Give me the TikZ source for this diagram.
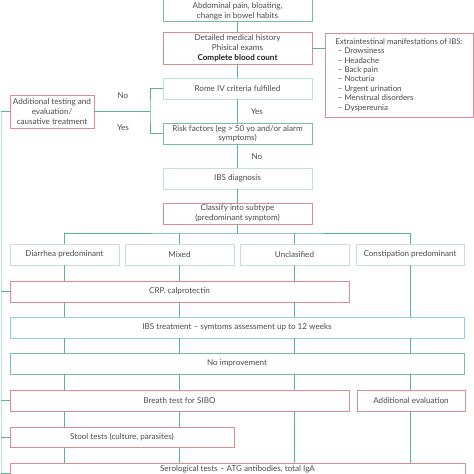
\documentclass[tikz,border=0pt]{standalone}
\usepackage{fontspec}
\setmainfont{Lato}
\usepackage{xcolor}
\usepackage{tikz}
\usetikzlibrary{calc}
\definecolor{bg}{HTML}{FFFFFF}
\definecolor{text}{HTML}{4A4A4A}
\definecolor{dark}{HTML}{1E1E1E}
\definecolor{teal}{HTML}{58B39E}
\definecolor{rose}{HTML}{E38793}
\definecolor{mint}{HTML}{BFE2D5}
\definecolor{pale}{HTML}{CBDDD8}
\definecolor{sky}{HTML}{8FD0E2}
\definecolor{rail}{HTML}{B5E1E4}
\tikzset{
  box/.style={draw, line width=0.9pt, inner sep=1pt, align=center, text=text,
    font=\fontsize{8.1}{9.8}\selectfont},
  redbox/.style={box, draw=rose},
  grnbox/.style={box, draw=teal!85},
  mntbox/.style={box, draw=mint},
  gryb/.style={box, draw=pale},
  skybox/.style={box, draw=sky},
  link/.style={draw=teal, line width=0.9pt},
  railln/.style={draw=rail, line width=0.9pt},
  lab/.style={text=text, font=\fontsize{8.1}{9.8}\selectfont},
}

\begin{document}
\begin{tikzpicture}[x=1pt, y=-1pt]
  \useasboundingbox[fill=bg] (0,0) rectangle (474,474);

  % upper column
  \node[grnbox, minimum width=149, minimum height=34] (sympt) at (237.5,4) {};
  \node[lab] (symptxt) at (237.5,6) {Abdominal pain, bloating,};
  \node[lab] (symptxt2) at (237.5,16) {change in bowel habits};
  \node[redbox, minimum width=149, minimum height=32] (hist) at (237.5,48)
    {Detailed medical history\\Phisical exams\\\textcolor{dark}{\textbf{Complete blood count}}};
  \node[redbox, minimum width=148, minimum height=84, align=left,
    font=\fontsize{7.9}{9.4}\selectfont] (extra) at (399,75)
    {Extraintestinal manifestations of IBS:\\
     \,\,-- Drowsiness\\ \,\,-- Headache\\ \,\,-- Back pain\\ \,\,-- Nocturia\\
     \,\,-- Urgent urination\\ \,\,-- Menstrual disorders\\ \,\,-- Dyspereunia};
  \node[mntbox, minimum width=149, minimum height=21] (rome) at (237.5,88.5) {Rome IV criteria fulfilled};
  \node[grnbox, minimum width=149, minimum height=21] (risk) at (237.5,133.5)
    {Risk factors (eg > 50 yo and/or alarm\\symptoms)};
  \node[redbox, minimum width=84, minimum height=33] (addtest) at (52,111.5)
    {Additional testing and\\evaluation/\\causative treatment};
  \node[mntbox, minimum width=149, minimum height=21] (ibs) at (237.5,178.5) {IBS diagnosis};
  \node[redbox, minimum width=149, minimum height=21] (classify) at (237.5,213.5)
    {Classify into subtype\\(predominant symptom)};

  % subtypes
  \node[gryb, minimum width=109, minimum height=21] (diarr) at (64.5,254.5) {Diarrhea predominant};
  \node[gryb, minimum width=109, minimum height=21] (mixed) at (179.5,254.5) {Mixed};
  \node[gryb, minimum width=109, minimum height=21] (uncl) at (294.5,254.5) {Unclasified};
  \node[gryb, minimum width=108, minimum height=21] (consti) at (410,254.5) {Constipation predominant};

  % lower rows
  \node[redbox, minimum width=339, minimum height=21] (crp) at (179.5,291.5) {CRP, calprotectin};
  \node[skybox, minimum width=454, minimum height=21] (treat) at (237,327.5)
    {IBS treatment -- symtoms assessment up to 12 weeks};
  \node[grnbox, minimum width=454, minimum height=21] (noimp) at (237,363.5) {No improvement};
  \node[redbox, minimum width=339, minimum height=21] (breath) at (179.5,400.5) {Breath test for SIBO};
  \node[redbox, minimum width=108, minimum height=21] (addeval) at (411,400.5) {Additional evaluation};
  \node[redbox, minimum width=224, minimum height=20] (stool) at (122,437) {Stool tests (culture, parasites)};
  \node[redbox, minimum width=455, minimum height=27, text height=6pt, text depth=17pt] (sero) at (237.5,477)
    {Serological tests -- ATG antibodies, total IgA};

  % labels
  \node[lab] (no1) at (123,96) {No};
  \node[lab] (yes1) at (123,128) {Yes};
  \node[lab] (yes2) at (257,112) {Yes};
  \node[lab] (no2) at (257,157) {No};

  % links, upper part
  \coordinate (fork) at (150,111.5);
  \coordinate (bus) at (237.5,233);
  \draw[link] (sympt) -- (hist);
  \draw[link] (hist.east) -- (hist.east -| extra.west);
  \draw[link] (hist) -- (rome);
  \draw[link] (rome) -- (risk);
  \draw[link] (rome.west) -| (fork) |- (risk.west);
  \draw[link] (addtest.east) -- (fork);
  \draw[link] (risk) -- (ibs);
  \draw[link] (ibs) -- (classify);
  \draw[link] (classify) -- (bus);
  \draw[link] (diarr.north) |- (bus) -| (consti.north);
  \draw[link] (mixed.north) -- (mixed.north |- bus);
  \draw[link] (uncl.north) -- (uncl.north |- bus);

  % links, columns
  \draw[link] (diarr) -- (diarr |- crp.north);
  \draw[link] (mixed) -- (mixed |- crp.north);
  \draw[link] (uncl) -- (uncl |- crp.north);
  \draw[link] (diarr |- crp.south) -- (diarr |- treat.north);
  \draw[link] (mixed |- crp.south) -- (mixed |- treat.north);
  \draw[link] (uncl |- crp.south) -- (uncl |- treat.north);
  \draw[link] (consti) -- (consti |- treat.north);
  \draw[link] (diarr |- treat.south) -- (diarr |- noimp.north);
  \draw[link] (mixed |- treat.south) -- (mixed |- noimp.north);
  \draw[link] (uncl |- treat.south) -- (uncl |- noimp.north);
  \draw[link] (consti |- treat.south) -- (consti |- noimp.north);
  \draw[link] (diarr |- noimp.south) -- (diarr |- breath.north);
  \draw[link] (mixed |- noimp.south) -- (mixed |- breath.north);
  \draw[link] (uncl |- noimp.south) -- (uncl |- breath.north);
  \draw[link] (consti |- noimp.south) -- (consti |- addeval.north);
  \draw[link] (diarr |- breath.south) -- (diarr |- stool.north);
  \draw[link] (mixed |- breath.south) -- (mixed |- stool.north);
  \draw[link] (uncl |- breath.south) -- (uncl |- sero.north);
  \draw[link] (consti |- addeval.south) -- (consti |- sero.north);
  \draw[link] (diarr |- stool.south) -- (diarr |- sero.north);
  \draw[link] (mixed |- stool.south) -- (mixed |- sero.north);

  % left rail
  \coordinate (railtop) at (1,111.5);
  \coordinate (railbot) at (1,480);
  \coordinate (serostub) at (1,473);
  \draw[railln] (railtop) -- (railbot);
  \draw[link] (addtest.west) -- (addtest.west -| railtop);
  \draw[link] (crp.west) -- (crp.west -| railtop);
  \draw[link] (breath.west) -- (breath.west -| railtop);
  \draw[link] (stool.west) -- (stool.west -| railtop);
  \draw[link] (sero.west |- serostub) -- (serostub);
\end{tikzpicture}
\end{document}
